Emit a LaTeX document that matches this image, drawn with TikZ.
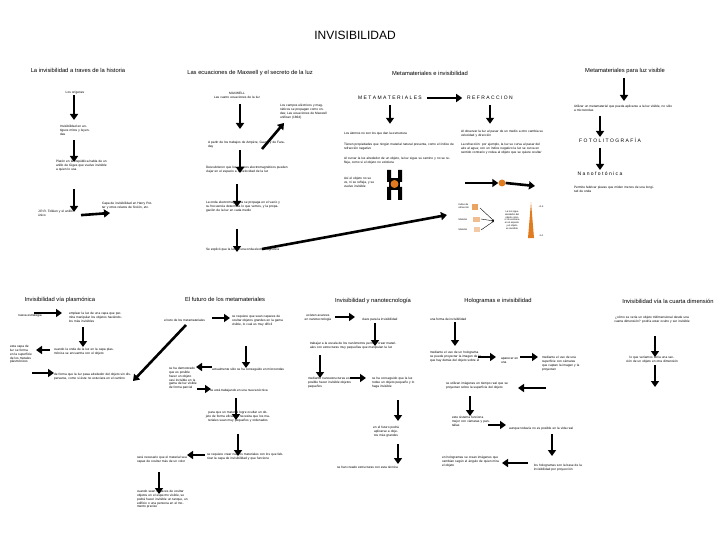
\documentclass[tikz,border=0pt]{standalone}
\usepackage{fontspec}
\setmainfont{Liberation Sans}
\usetikzlibrary{arrows.meta}
\definecolor{org}{HTML}{E07B20}
\tikzset{
 t/.style={font=\fontsize{3.2}{3.9}\selectfont, align=left, inner sep=1pt, outer sep=3pt, anchor=north west},
 tc/.style={t, align=center, anchor=north},
 h/.style={font=\fontsize{5.8}{7}\selectfont, inner sep=1pt},
 sp/.style={font=\fontsize{5}{6}\selectfont, inner sep=1pt, outer sep=4pt},
 arr/.style={line width=2.6pt, -{Triangle[length=6pt,width=8pt]}},
 thin/.style={line width=0.4pt, -{Stealth[length=2pt]}}
}
\begin{document}
\begin{tikzpicture}[x=1pt,y=-1pt]
\useasboundingbox (0,0) rectangle (720,540);
\node[font=\fontsize{12}{14}\selectfont] (title) at (355,35) {INVISIBILIDAD};
% headers
\node[h] (h1) at (78,70) {La invisibilidad a traves de la historia};
\node[h] (h2) at (250,73) {Las ecuaciones de Maxwell y el secreto de la luz};
\node[h] (h3) at (430,73) {Metamateriales e invisibilidad};
\node[h] (h4) at (625,71) {Metamateriales para luz visible};
% column 1
\node[tc] (a1) at (75,87) {Los orígenes};
\node[t,text width=32pt] (a2) at (56,121) {Invisibilidad en antiguos mitos y leyendas};
\node[t,text width=52pt] (a3) at (52,156) {Platón en la República habla de un anillo de Giges que vuelve invisible a quien lo usa};
\node[t,text width=42pt] (a4) at (34,206) {J.R.R. Tolkien y el anillo único};
\node[t,text width=52pt] (a5) at (98,198) {Capa de invisibilidad en Harry Potter y otros relatos de ficción, etc.};
\draw[arr] (74,95) -- (74,120);
\draw[arr] (74,140) -- (74,162);
\draw[arr] (74,189) -- (74,212);
\draw[arr] (a4.east) ++(-3,2) -- (110,213);
% column 2
\node[tc,text width=70pt,align=center] (b1) at (237,88) {MAXWELL\\Las cuatro ecuaciones de la luz};
\node[t,text width=48pt] (b2) at (276,100) {Los campos eléctricos y magnéticos se propagan como ondas; Las ecuaciones de Maxwell unifican (1864)};
\node[t,text width=78pt] (b3) at (204,137) {A partir de los trabajos de Ampère, Gauss y de Faraday};
\node[t,text width=86pt] (b4) at (202,162) {Descubrieron que los campos electromagnéticos pueden viajar en el espacio a la velocidad de la luz};
\node[t,text width=78pt] (b5) at (202,197) {La onda electromagnética se propaga en el vacío y su frecuencia determina lo que vemos, y la propagación de la luz en cada medio};
\node[t] (b6) at (202,244) {Se explicó que la luz es una onda electromagnética};
\draw[arr] (240,104) -- (240,129);
\draw[arr] (262,149) -- (284,123);
\draw[arr] (240,150) -- (240,173);
\draw[arr] (237,184) -- (237,207);
\draw[arr] (237,229) -- (237,252);
\draw[arr] (262,249) -- (447,215);
% column 3
\node[sp] (c1) at (390,98) {M E T A M A T E R I A L E S};
\node[sp] (c2) at (490,98) {R E F R A C C I O N};
\draw[arr] (c1.east) -- (c2.west);
\draw[arr] (c1.south) -- ++(0,19);
\node[t] (c3) at (340,128) {Los átomos no son los que dan la estructura};
\node[t,text width=110pt] (c4) at (340,139) {Tienen propiedades que ningún material natural presenta, como el índice de refracción negativo};
\node[t,text width=110pt] (c5) at (340,153) {Al curvar la luz alrededor de un objeto, la luz sigue su camino y no se refleja, como si el objeto no existiera};
\node[t,text width=34pt] (c6) at (340,173) {Así el objeto no se ve, ni se refleja, y se vuelve invisible};
\draw[arr] (c2.south) -- ++(0,19);
\node[t,text width=85pt] (c7) at (457,126) {Al observar la luz al pasar de un medio a otro cambia su velocidad y dirección};
\node[t,text width=85pt] (c8) at (457,139) {La refracción: por ejemplo, la luz se curva al pasar del aire al agua; con un índice negativo la luz se curva en sentido contrario y rodea al objeto que se quiere ocultar};
% cloak figure
\fill[black] (387,170) rectangle (391,182) (398,170) rectangle (402,182) (387,187) rectangle (391,200) (398,187) rectangle (402,200);
\fill[black] (389,178) rectangle (400,190);
\node[circle,fill=org,minimum size=8pt,inner sep=0] (orb) at (394.5,184) {};
% refraction figure
\node[circle,fill=org,minimum size=7pt,inner sep=0] (ob2) at (502,183) {};
\draw[arr] (465,183) -- (ob2.west);
\draw[arr] (ob2.east) -- (535,186);
% small graph
\node[font=\fontsize{2.4}{2.8}\selectfont,align=left,anchor=west] (g1) at (455,206) {Indice de\\refracción};
\node[font=\fontsize{2.4}{2.8}\selectfont,anchor=west] (g2) at (455,220) {Material};
\node[font=\fontsize{2.4}{2.8}\selectfont,anchor=west] (g3) at (455,230) {Material};
\fill[org!70] (472,204) rectangle (478,210);
\fill[org!50] (473,217) rectangle (480,222);
\fill[org!40] (474,227) rectangle (480,232);
\coordinate (gj) at (494,221);
\draw[thin] (480,208) -- (gj);
\draw[thin] (481,219) -- (gj);
\draw[thin] (481,230) -- (gj);
\node[font=\fontsize{2.4}{2.8}\selectfont,align=center] (g4) at (512,220) {La luz sigue\\alrededor del\\objeto como\\si no existiera\\en el espacio\\y el objeto\\es invisible};
\fill[org] (528,238) -- (531,202) -- (534,238) -- cycle;
\node[font=\fontsize{2.4}{2.8}\selectfont] (g5) at (541,207) {+1.4};
\node[font=\fontsize{2.4}{2.8}\selectfont] (g6) at (541,236) {-1.4};
% column 4
\draw[arr] (624,78) -- (624,101);
\node[t,text width=100pt] (d1) at (570,101) {Utilizar un metamaterial que pueda aplicarse a la luz visible, no sólo a microondas};
\node[sp] (d2) at (610,140) {F O T O L I T O G R A F Í A};
\draw[arr] (600,116) -- (600,137);
\draw[arr] (600,148) -- (600,170);
\node[sp] (d3) at (600,174) {N a n o f o t ó n i c a};
\node[t,text width=80pt] (d4) at (570,182) {Permite fabricar piezas que miden menos de una longitud de onda};
% bottom headers
\node[h] (e1) at (60,300) {Invisibilidad vía plasmónica};
\node[h] (e2) at (225,299) {El futuro de los metamateriales};
\node[h] (e3) at (373,301) {Invisibilidad y nanotecnología};
\node[h] (e4) at (498,301) {Hologramas e invisibilidad};
\node[h] (e5) at (668,301) {Invisibilidad vía la cuarta dimensión};
% plasmonica
\node[t] (p1) at (14,310) {nueva estrategia};
\node[t,text width=55pt] (p2) at (65,308) {emplear la luz de una capa que permita manipular los objetos  haciéndolos más invisibles};
\node[t,text width=65pt] (p3) at (50,344) {cuando la onda de la luz en la capa plasmónica se encuentra con el objeto};
\node[t,text width=24pt] (p4) at (6,341) {esta capa de luz se forma en la superficie de los metales plasmónicos};
\node[t,text width=78pt] (p5) at (50,369) {de forma que la luz pasa alrededor del objeto sin dispersarse, como si éste no estuviera en el camino};
\draw[arr] (34,313) -- (62,313);
\draw[arr] (83,327) -- (83,347);
\draw[arr] (50,350) -- (36,350);
\draw[arr] (32,373) -- (54,373);
% futuro
\node[t] (f1) at (160,315) {el reto de los metamateriales};
\node[t,text width=55pt] (f2) at (228,311) {se requiere que sean capaces de ocultar objetos grandes en la gama visible, lo cual es muy difícil};
\node[t] (f3) at (208,364) {actualmente sólo se ha conseguido en microondas};
\node[t,text width=28pt] (f4) at (165,363) {se ha demostrado que es posible hacer un objeto casi invisible en la gama de luz visible de forma parcial};
\node[t] (f5) at (206,385) {se está trabajando en una nueva técnica};
\node[t,text width=80pt,align=center,anchor=north] (f6) at (238,407) {para que un material logre ocultar un objeto de forma eficaz se necesita que los materiales sean muy pequeños y ordenados};
\node[t,text width=78pt] (f7) at (203,449) {se requiere crear nuevos materiales con los que fabricar la capa de invisibilidad y que funcione};
\node[t,text width=55pt] (f8) at (133,452) {será necesario que el material sea capaz de ocultar más de un color};
\node[t,text width=52pt] (f9) at (133,486) {cuando sean capaces de ocultar objetos en el espectro visible, se podrá hacer invisible un tanque, un edificio o una persona en el momento preciso};
\draw[arr] (212,318) -- (230,318);
\draw[arr] (246,346) -- (246,368);
\draw[arr] (212,367) -- (196,367);
\draw[arr] (197,389) -- (211,389);
\draw[arr] (236,398) -- (236,420);
\draw[arr] (238,434) -- (238,456);
\draw[arr] (205,455) -- (187,455);
\draw[arr] (159,472) -- (159,494);
\draw[arr] (186,325) -- (133,381);
% nanotecnologia
\node[t,text width=30pt,align=center,anchor=north] (n1) at (318,310) {existen avances en nanotecnología};
\node[t] (n2) at (358,314) {clave para la invisibilidad};
\node[t,text width=90pt] (n3) at (306,338) {trabajar a la escala de los nanómetros permite crear materiales con estructuras muy pequeñas que manipulan la luz};
\node[t,text width=48pt] (n4) at (304,373) {mediante nanoestructuras es posible hacer invisible objetos pequeños};
\node[t,text width=48pt] (n5) at (368,373) {se ha conseguido que la luz rodee un objeto pequeño y lo haga invisible};
\node[t,text width=36pt,align=center,anchor=north] (n6) at (386,422) {en el futuro podrá aplicarse a objetos más grandes};
\node[t] (n7) at (333,462) {se han creado estructuras con esta técnica};
\draw[arr] (335,317) -- (355,317);
\draw[arr] (375,323) -- (375,346);
\draw[arr] (320,355) -- (320,378);
\draw[arr] (350,378) -- (366,378);
\draw[arr] (398,400) -- (398,421);
\draw[arr] (398,444) -- (398,464);
% hologramas
\node[t] (o1) at (426,314) {una forma de invisibilidad};
\node[t,text width=52pt] (o2) at (426,347) {mediante el uso de un holograma se puede proyectar la imagen de lo que hay detrás del objeto sobre él};
\node[t,text width=18pt] (o3) at (497,354) {aparecer en una};
\node[t,text width=38pt] (o4) at (538,352) {mediante el uso de una superficie con cámaras que captan la imagen y la proyectan};
\node[t,text width=66pt] (o5) at (442,378) {se utilizan imágenes en tiempo real que se proyectan sobre la superficie del objeto};
\node[t,text width=40pt] (o6) at (448,412) {este sistema funciona mejor con cámaras y pantallas};
\node[t,text width=70pt] (o7) at (505,423) {aunque todavía no es posible en la vida real};
\node[t,text width=58pt] (o8) at (438,452) {en hologramas se crean imágenes que cambian según el ángulo de quien mira el objeto};
\node[t,text width=52pt] (o9) at (530,460) {los hologramas son la base de la invisibilidad por proyección};
\draw[arr] (455,322) -- (455,346);
\draw[arr] (478,357) -- (496,357);
\draw[arr] (520,357) -- (538,357);
\draw[arr] (546,388) -- (518,388);
\draw[arr] (470,396) -- (470,416);
\draw[arr] (488,425) -- (506,425);
\draw[arr] (552,434) -- (552,456);
\draw[arr] (528,463) -- (502,463);
% cuarta dimension
\node[t,text width=80pt,align=center,anchor=north] (q1) at (652,312) {¿cómo se vería un objeto tridimensional desde una cuarta dimensión? podría estar oculto y ser invisible};
\node[t,text width=75pt,align=center,anchor=north] (q2) at (652,352) {lo que veríamos sería una sección de un objeto en otra dimensión};
\draw[arr] (655,336) -- (655,357);
\draw[arr] (655,365) -- (655,387);
\end{tikzpicture}
\end{document}
